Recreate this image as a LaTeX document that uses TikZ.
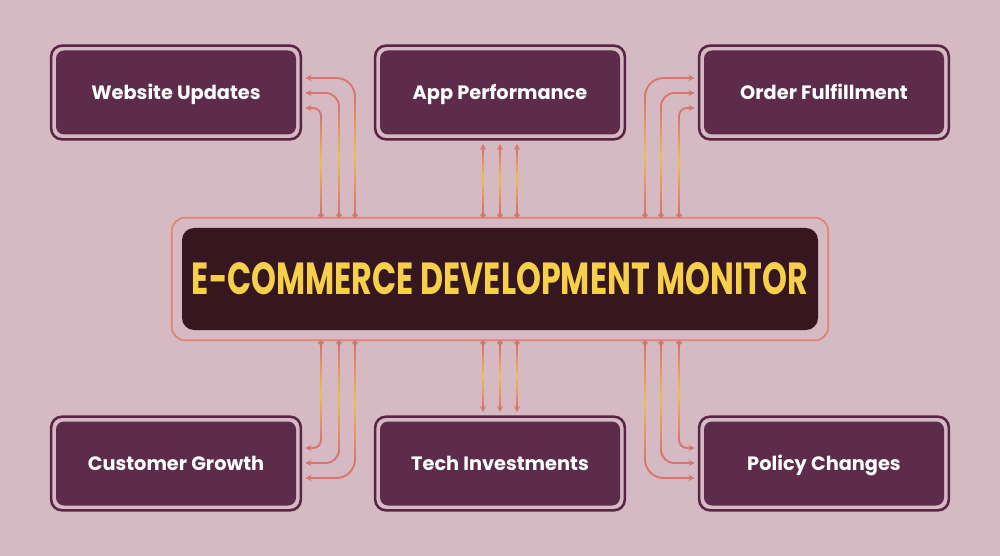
\documentclass[tikz,border=0pt]{standalone}
\usepackage{fontspec}
\setmainfont{Poppins}
\usepackage{graphicx}
\usetikzlibrary{arrows.meta,fit}
\definecolor{bg}{HTML}{D5B9C3}
\definecolor{boxfill}{HTML}{5C2C4A}
\definecolor{boxline}{HTML}{5A2544}
\definecolor{hubfill}{HTML}{36171F}
\definecolor{hubline}{HTML}{DE8470}
\definecolor{conncol}{HTML}{D9766C}
\definecolor{connmid}{HTML}{F4BE4C}
\definecolor{titlecol}{HTML}{F6CF4B}
\begin{document}
\begin{tikzpicture}[x=0.75pt,y=-0.75pt,
 box/.style={fill=boxfill, rounded corners=6pt, minimum width=180pt, minimum height=63pt, inner sep=0pt, text=white, text height=10.1pt, text depth=0pt, font=\bfseries\fontsize{14.5}{17}\selectfont},
 boxframe/.style={draw=boxline, line width=1.9pt, rounded corners=8pt, inner sep=3.4pt, outer sep=3.5pt},
 hub/.style={fill=hubfill, rounded corners=9pt, minimum width=477pt, minimum height=76.5pt, inner sep=0pt, text=titlecol, font=\bfseries},
 hubframe/.style={draw=hubline, line width=1.2pt, rounded corners=10pt, inner sep=7.5pt, outer sep=0pt},
 conn/.style={draw=conncol, line width=1.4pt, arrows={Circle[length=4pt]-Stealth[length=4.5pt,width=4.5pt]}},
 glow/.style={top color=conncol, bottom color=conncol, middle color=connmid},
]
\fill[bg] (0,0) rectangle (1000,556);
\useasboundingbox (0,0) rectangle (1000,556);

% hub
\node[hub] (hub) at (500,279) {\resizebox{462pt}{24pt}{E-COMMERCE DEVELOPMENT MONITOR}};
\node[hubframe, fit=(hub)] (hubF) {};

% boxes
\node[box] (wu) at (176,92.5) {Website Updates};
\node[box] (ap) at (500,92.5) {App Performance};
\node[box] (of) at (824,92.5) {Order Fulfillment};
\node[box] (cg) at (176,463.5) {Customer Growth};
\node[box] (ti) at (500,463.5) {Tech Investments};
\node[box] (pc) at (824,463.5) {Policy Changes};
\foreach \n in {wu,ap,of,cg,ti,pc}{\node[boxframe, fit=(\n)] (\n F) {};}

% top-left
\draw[conn, rounded corners=6pt]  (hubF.north -| 321,0) |- (wuF.east |- 0,108);
\draw[conn, rounded corners=10pt] (hubF.north -| 339,0) |- (wuF.east |- 0,93);
\draw[conn, rounded corners=14pt] (hubF.north -| 355,0) |- (wuF.east |- 0,78);
% top-middle
\draw[conn] (hubF.north -| 483,0) -- (apF.south -| 483,0);
\draw[conn] (hubF.north -| 500,0) -- (apF.south -| 500,0);
\draw[conn] (hubF.north -| 517,0) -- (apF.south -| 517,0);
% top-right
\draw[conn, rounded corners=6pt]  (hubF.north -| 679,0) |- (ofF.west |- 0,108);
\draw[conn, rounded corners=10pt] (hubF.north -| 661,0) |- (ofF.west |- 0,93);
\draw[conn, rounded corners=14pt] (hubF.north -| 645,0) |- (ofF.west |- 0,78);
% bottom-left
\draw[conn, rounded corners=6pt]  (hubF.south -| 321,0) |- (cgF.east |- 0,448);
\draw[conn, rounded corners=10pt] (hubF.south -| 339,0) |- (cgF.east |- 0,463);
\draw[conn, rounded corners=14pt] (hubF.south -| 355,0) |- (cgF.east |- 0,478);
% bottom-middle
\draw[conn] (hubF.south -| 483,0) -- (tiF.north -| 483,0);
\draw[conn] (hubF.south -| 500,0) -- (tiF.north -| 500,0);
\draw[conn] (hubF.south -| 517,0) -- (tiF.north -| 517,0);
% bottom-right
\draw[conn, rounded corners=6pt]  (hubF.south -| 679,0) |- (pcF.west |- 0,448);
\draw[conn, rounded corners=10pt] (hubF.south -| 661,0) |- (pcF.west |- 0,463);
\draw[conn, rounded corners=14pt] (hubF.south -| 645,0) |- (pcF.west |- 0,478);

% colour glow along the straight runs of the connectors
\foreach \x/\ya/\yb in {321/117/208, 339/107/208, 355/98/208,
                        483/150/208, 500/150/208, 517/150/208,
                        645/98/208, 661/107/208, 679/117/208,
                        321/347/439, 339/347/449, 355/347/458,
                        483/347/406, 500/347/406, 517/347/406,
                        645/347/458, 661/347/449, 679/347/439}
  {\shade[glow] (\x-0.93,\ya) rectangle (\x+0.93,\yb);}
\end{tikzpicture}
\end{document}
